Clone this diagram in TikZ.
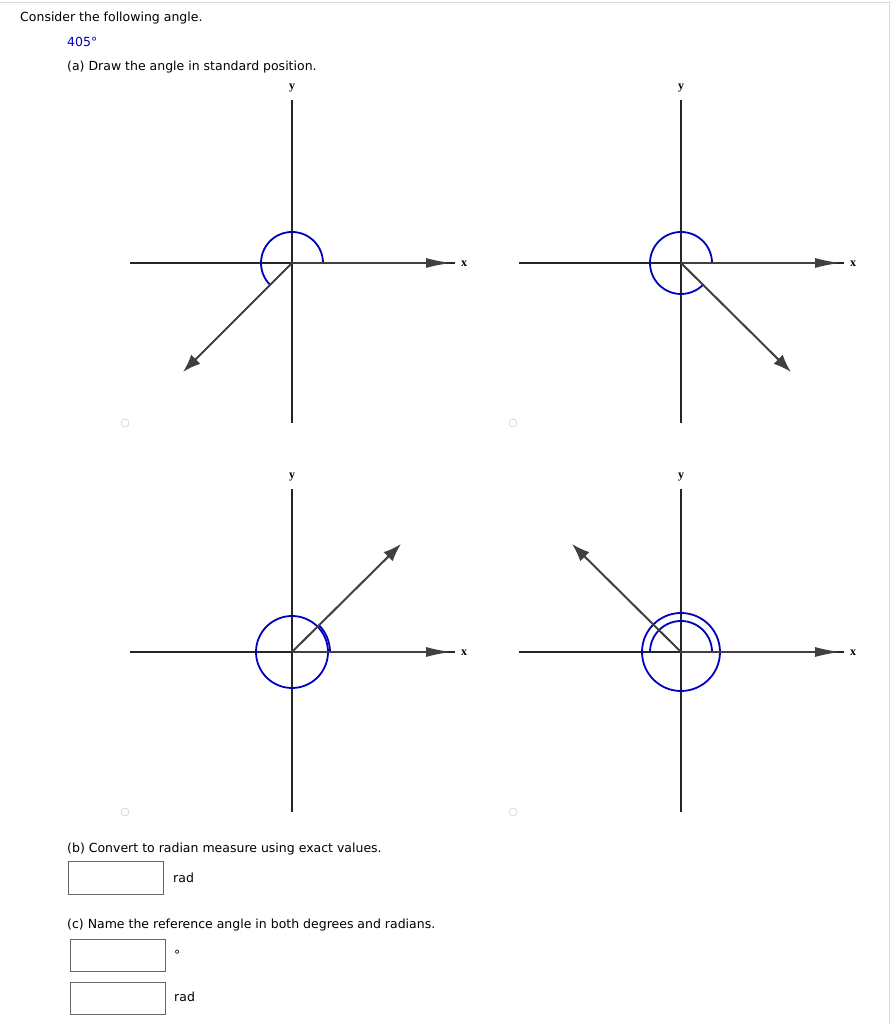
\documentclass[tikz,border=0pt]{standalone}
\usepackage{fontspec}
\setmainfont{DejaVu Sans}
\newfontfamily\axf{Liberation Serif}
\usetikzlibrary{arrows.meta}
\tikzset{
 ax/.style={line width=1.2pt,black!85},
 ray/.style={line width=2pt,black!75,-{Latex[length=18pt,width=13pt]}},
 xray/.style={line width=2pt,black!75,-{Latex[length=26pt,width=10pt]}},
 ang/.style={line width=1.8pt,blue!75!black},
 txt/.style={anchor=west,inner sep=0pt,font=\fontsize{12.5}{14}\selectfont},
 lab/.style={inner sep=0pt,font=\axf\bfseries\fontsize{12}{14}\selectfont},
 radio/.style={draw=black!25,circle,minimum size=8pt,inner sep=0pt},
 ansbox/.style={draw=black!60,line width=0.6pt,anchor=north west,minimum width=95pt,minimum height=33pt,inner sep=0pt}
}
\begin{document}
\begin{tikzpicture}[x=1pt,y=1pt]
\useasboundingbox (0,0) rectangle (891,1024);
\draw[black!15] (0,1022) -- (891,1022);
\draw[black!15] (889,1022) -- (889,0);
\node[txt] (t0) at (20,1006) {Consider the following angle.};
\node[txt,text=blue!70!black] (t1) at (67,982) {405°};
\node[txt] (t2) at (67,957) {(a) Draw the angle in standard position.};
\newcommand{\panel}[3]{%
 \begin{scope}[shift={(#1,#2)}]
  \draw[ax] (-162,0) -- (163,0);
  \draw[ax] (0,163) -- (0,-160);
  \node[lab] at (0,175) {y};
  \node[lab] at (172,-1) {x};
  #3
 \end{scope}}
% TL
\panel{292}{761}{
 \draw[ang] (31,0) arc[start angle=0,end angle=225,radius=31];
 \draw[xray] (0,0) -- (160,0);
 \draw[ray] (0,0) -- (-109,-109);
 \node[radio] at (-167,-160) {};}
% TR
\panel{681}{761}{
 \draw[ang] (31,0) arc[start angle=0,end angle=315,radius=31];
 \draw[xray] (0,0) -- (160,0);
 \draw[ray] (0,0) -- (110,-109);
 \node[radio] at (-168,-160) {};}
% BL
\panel{292}{372}{
 \draw[ang] (36,0) arc[start angle=0,end angle=360,radius=36];
 \draw[ang] (38,0) arc[start angle=0,end angle=45,radius=38];
 \draw[xray] (0,0) -- (160,0);
 \draw[ray] (0,0) -- (109,108);
 \node[radio] at (-167,-160) {};}
% BR
\panel{681}{372}{
 \draw[ang] (39,0) arc[start angle=0,end angle=360,radius=39];
 \draw[ang] (31,0) arc[start angle=0,end angle=180,radius=31];
 \draw[xray] (0,0) -- (160,0);
 \draw[ray] (0,0) -- (-109,108);
 \node[radio] at (-168,-160) {};}
\node[txt] (b) at (67,175) {(b) Convert to radian measure using exact values.};
\node[ansbox] (bb) at (68,163) {};
\node[txt] (br) at (173,146) {rad};
\node[txt] (c) at (67,99) {(c) Name the reference angle in both degrees and radians.};
\node[ansbox,minimum height=32pt] (c1) at (70,85) {};
\node[txt] (cd) at (174,69) {°};
\node[ansbox,minimum height=32pt] (c2) at (70,42) {};
\node[txt] (cr) at (174,27) {rad};
\end{tikzpicture}
\end{document}
